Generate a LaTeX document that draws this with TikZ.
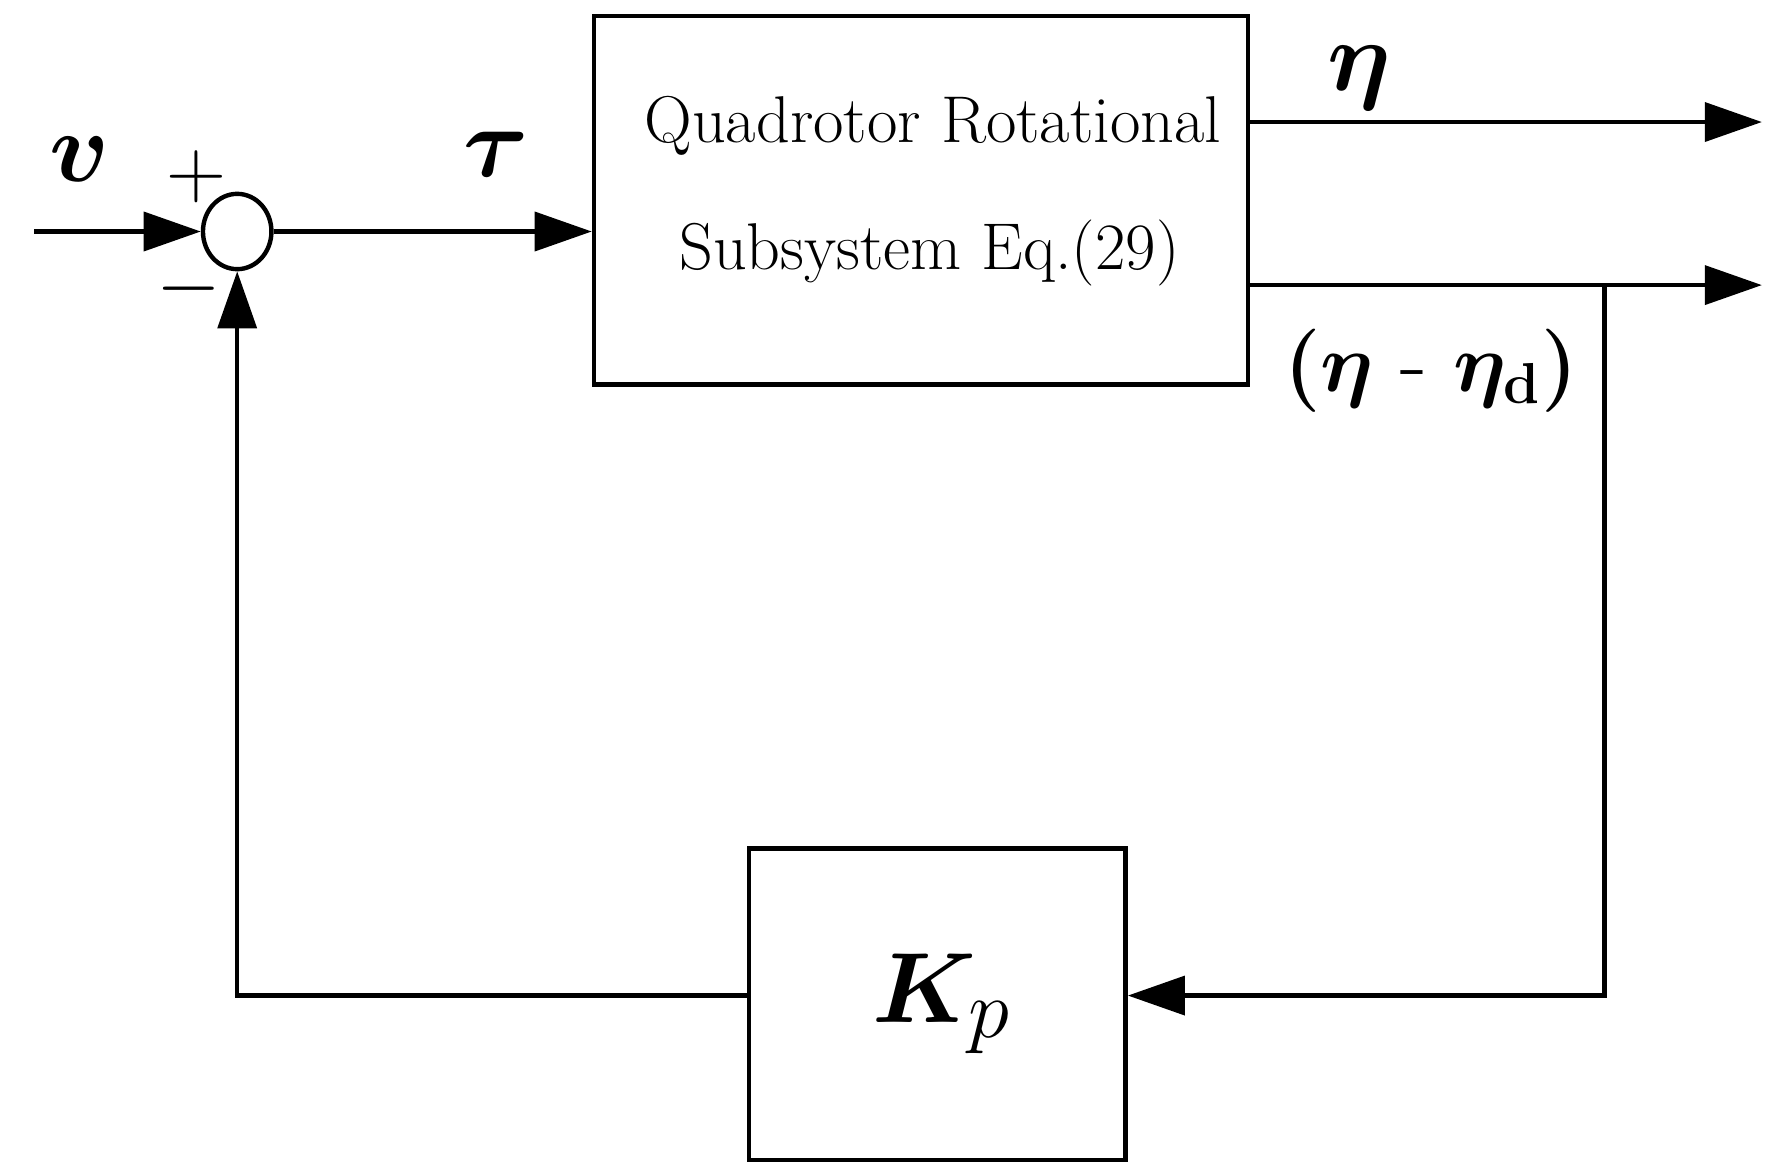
\documentclass[tikz,border=0pt]{standalone}
\usepackage{amsmath,bm}
\usetikzlibrary{arrows.meta,shapes.geometric}
\begin{document}
\begin{tikzpicture}[x=0.01cm,y=-0.01cm,
  ln/.style={line width=1.1pt},
  ar/.style={ln,-{Triangle[length=0.5cm,width=0.34cm]}},
  blk/.style={draw,line width=1.1pt,inner sep=0pt},
  lbl/.style={font=\fontsize{26}{30}\selectfont}]
\useasboundingbox (0,0) rectangle (1560,1030);
\node[blk,minimum width=5.73cm,minimum height=3.23cm] (sys) at (807.5,175.5) {};
\node[font=\fontsize{16.5}{20}\selectfont] at (818,110) {Quadrotor Rotational};
\node[font=\fontsize{16.5}{20}\selectfont] at (815,222) {Subsystem Eq.(29)};
\node[blk,minimum width=3.3cm,minimum height=2.73cm] (kp) at (822,880.5) {};
\node[font=\fontsize{30}{34}\selectfont] at (826,880) {$\bm{K}_{p}$};
\node[draw,ln,ellipse,minimum width=0.6cm,minimum height=0.66cm,inner sep=0pt] (sum) at (208,203) {};
\coordinate (in) at (30,203);
\coordinate (o1s) at (1094,107); \coordinate (o1e) at (1545,107);
\coordinate (o2s) at (1094,250); \coordinate (o2e) at (1545,250);
\coordinate (br) at (1407,250); \coordinate (brd) at (1407,873);
\coordinate (fl) at (208,873);
\draw[ar] (in) -- (sum.west);
\draw[ar] (sum.east) -- (sys.west |- sum.east);
\draw[ar] (o1s) -- (o1e);
\draw[ar] (o2s) -- (o2e);
\draw[ar] (br) -- (brd) -- (kp.east |- brd);
\draw[ar] (kp.west |- fl) -- (fl) -- (sum.south);
\node[lbl] at (70,140) {$\bm{v}$};
\node[font=\fontsize{20}{24}\selectfont] at (172,155) {$+$};
\node[font=\fontsize{20}{24}\selectfont] at (166,253) {$-$};
\node[lbl] at (435,135) {$\bm{\tau}$};
\node[lbl] at (1192,68) {$\bm{\eta}$};
\node[font=\fontsize{22}{26}\selectfont] at (1255,325) {$\bm{(\eta\ \text{-}\ \eta_{\mathbf d})}$};
\end{tikzpicture}
\end{document}
